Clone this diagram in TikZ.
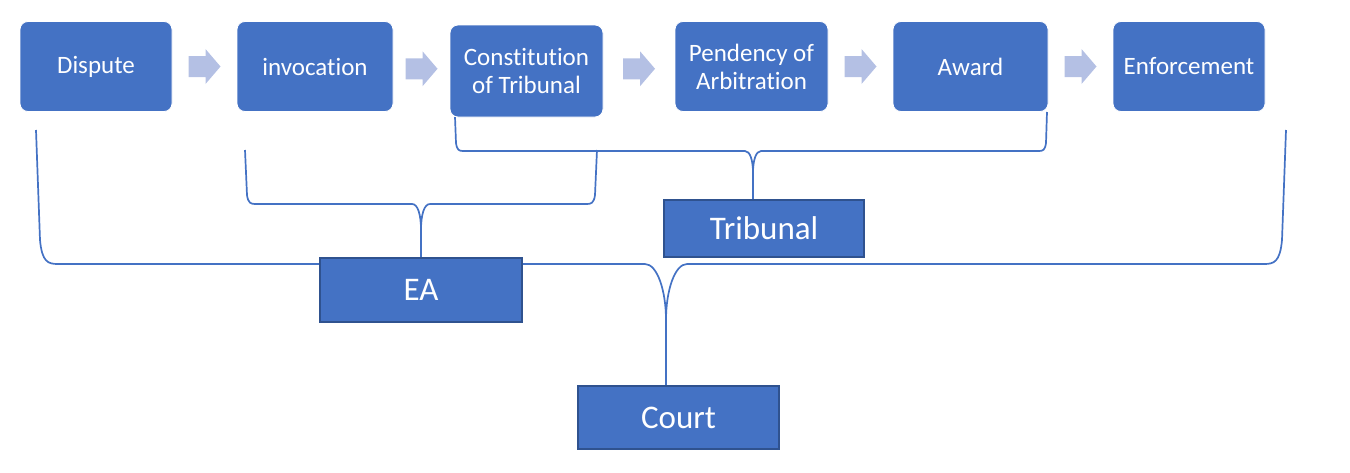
\documentclass[tikz,border=0pt]{standalone}
\usepackage{fontspec}
\setmainfont{Carlito}[Ligatures=NoCommon]
\usetikzlibrary{calc,backgrounds}
\definecolor{boxblue}{RGB}{68,114,196}
\definecolor{boxedge}{RGB}{47,82,143}
\definecolor{arrowc}{RGB}{180,192,228}
\definecolor{linec}{RGB}{68,114,196}
\tikzset{
  topbox/.style={fill=boxblue, draw=white, line width=0.8pt, rounded corners=8pt, text=white, align=center,
    inner sep=0pt, font=\fontsize{25}{28}\selectfont},
  botbox/.style={fill=boxblue, draw=boxedge, line width=1.8pt, text=white, inner sep=0pt,
    font=\fontsize{33}{36}\selectfont},
  bracel/.style={draw=linec, line width=1.7pt},
  chev/.pic={\fill[arrowc] (-16,-10.5) -- (1,-10.5) -- (1,-17.5) -- (16,0) -- (1,17.5) -- (1,10.5) -- (-16,10.5) -- cycle;}
}
\begin{document}
\begin{tikzpicture}[x=1pt,y=-1pt]
\useasboundingbox (0,0) rectangle (1350,472);
% top process boxes
\node[topbox, minimum width=152pt, minimum height=90pt] (d1) at (96,66.5) {Dispute};
\node[topbox, minimum width=156pt, minimum height=90pt] (d2) at (315,66.5) {invocation};
\node[topbox, minimum width=153pt, minimum height=92pt] (d3) at (526.5,71) {Constitution\\of Tribunal};
\node[topbox, minimum width=153pt, minimum height=90pt] (d4) at (751.5,66.5) {Pendency of\\Arbitration};
\node[topbox, minimum width=155pt, minimum height=90pt] (d5) at (970.5,66.5) {Award};
\node[topbox, minimum width=152pt, minimum height=90pt] (d6) at (1189,66.5) {Enforcement};
% arrows between boxes
\pic at ($(d1.east)!0.5!(d2.west)$) {chev};
\pic at ($(d2.east)!0.5!(d3.west)$) {chev};
\pic at ($(d3.east)!0.5!(d4.west)$) {chev};
\pic at ($(d4.east)!0.5!(d5.west)$) {chev};
\pic at ($(d5.east)!0.5!(d6.west)$) {chev};
% bottom boxes
\node[botbox, minimum width=202pt, minimum height=64pt] (ea) at (421,290) {EA};
\node[botbox, minimum width=200pt, minimum height=57pt] (tri) at (764,228.5) {Tribunal};
\node[botbox, minimum width=201pt, minimum height=63pt] (court) at (678.5,417.5) {Court};
% brace ends
\coordinate (cL) at (36,130);
\coordinate (cR) at (1286,130);
\coordinate (eL) at (245,150);
\coordinate (eR) at (597,150);
\coordinate (tL) at (455,117);
\coordinate (tR) at (1047,112);
\begin{scope}[on background layer]
% Court brace
\draw[bracel] (cL) -- (40,240) .. controls (42,262) and (48,264) .. (58,264) -- (645,264)
   .. controls (657,264) and (666,290) .. (666,320) -- ($(court.north)+(-12.5,0)$);
\draw[bracel] (cR) -- (1282,240) .. controls (1280,262) and (1274,264) .. (1264,264) -- (687,264)
   .. controls (675,264) and (666,290) .. (666,320);
% EA brace
\draw[bracel] (eL) -- (247,195) .. controls (248,203) and (251,204) .. (255,204) -- (412,204)
   .. controls (418,204) and (421,215) .. (421,230) -- (ea.north);
\draw[bracel] (eR) -- (595,195) .. controls (594,203) and (591,204) .. (587,204) -- (430,204)
   .. controls (424,204) and (421,215) .. (421,230);
% Tribunal brace
\draw[bracel] (tL) -- (456,143) .. controls (457,150) and (459,151) .. (463,151) -- (745,151)
   .. controls (750,151) and (753,160) .. (753,173) -- ($(tri.north)+(-11,0)$);
\draw[bracel] (tR) -- (1046,143) .. controls (1045,150) and (1043,151) .. (1039,151) -- (761,151)
   .. controls (756,151) and (753,160) .. (753,173);
\end{scope}
\end{tikzpicture}
\end{document}
